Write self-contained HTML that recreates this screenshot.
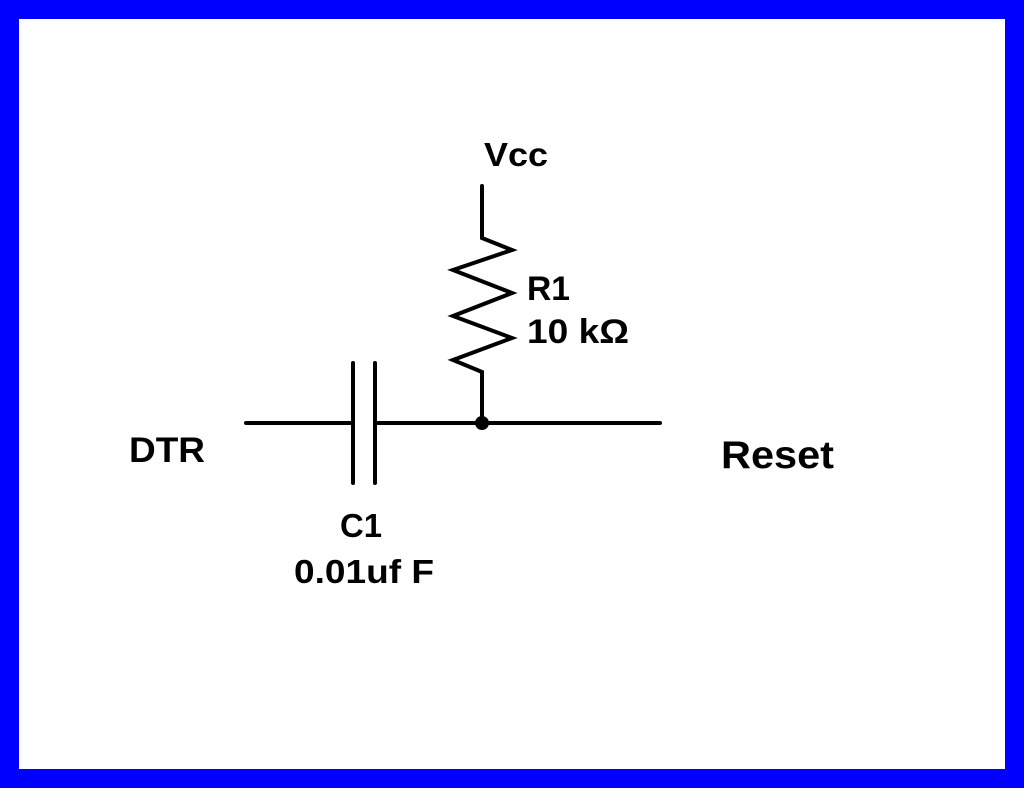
<!DOCTYPE html>
<html><head><style>html,body{margin:0;padding:0;background:#00f}svg{display:block}</style></head>
<body>
<svg width="1024" height="788" xmlns="http://www.w3.org/2000/svg">
<rect x="0" y="0" width="1024" height="788" fill="#0000ff"/>
<rect x="19" y="19" width="986" height="750" fill="#fff"/>
<g stroke="#000" stroke-width="4" fill="none" stroke-linecap="round" stroke-linejoin="miter">
<polyline points="482,186 482,238 512,250 453,270 512,293 453,316 512,338 453,360 482,372 482,423"/>
<line x1="246" y1="423" x2="353" y2="423"/>
<line x1="375" y1="423" x2="660" y2="423"/>
<line x1="353" y1="363" x2="353" y2="483"/>
<line x1="375" y1="363" x2="375" y2="483"/>
</g>
<circle cx="482" cy="423" r="7" fill="#000"/>
<g font-family="Liberation Sans, Arial, sans-serif" font-weight="bold" fill="#000">
<text x="484" y="166" font-size="33" textLength="64" lengthAdjust="spacingAndGlyphs">Vcc</text>
<text x="527" y="300" font-size="34" textLength="43" lengthAdjust="spacingAndGlyphs">R1</text>
<text x="527" y="343" font-size="34" textLength="102" lengthAdjust="spacingAndGlyphs">10 kΩ</text>
<text x="129" y="462" font-size="35" textLength="76" lengthAdjust="spacingAndGlyphs">DTR</text>
<text x="721" y="468" font-size="39" textLength="113" lengthAdjust="spacingAndGlyphs">Reset</text>
<text x="340" y="537" font-size="33" textLength="42" lengthAdjust="spacingAndGlyphs">C1</text>
<text x="294" y="583" font-size="33" textLength="140" lengthAdjust="spacingAndGlyphs">0.01uf F</text>
</g>
</svg>
</body></html>
